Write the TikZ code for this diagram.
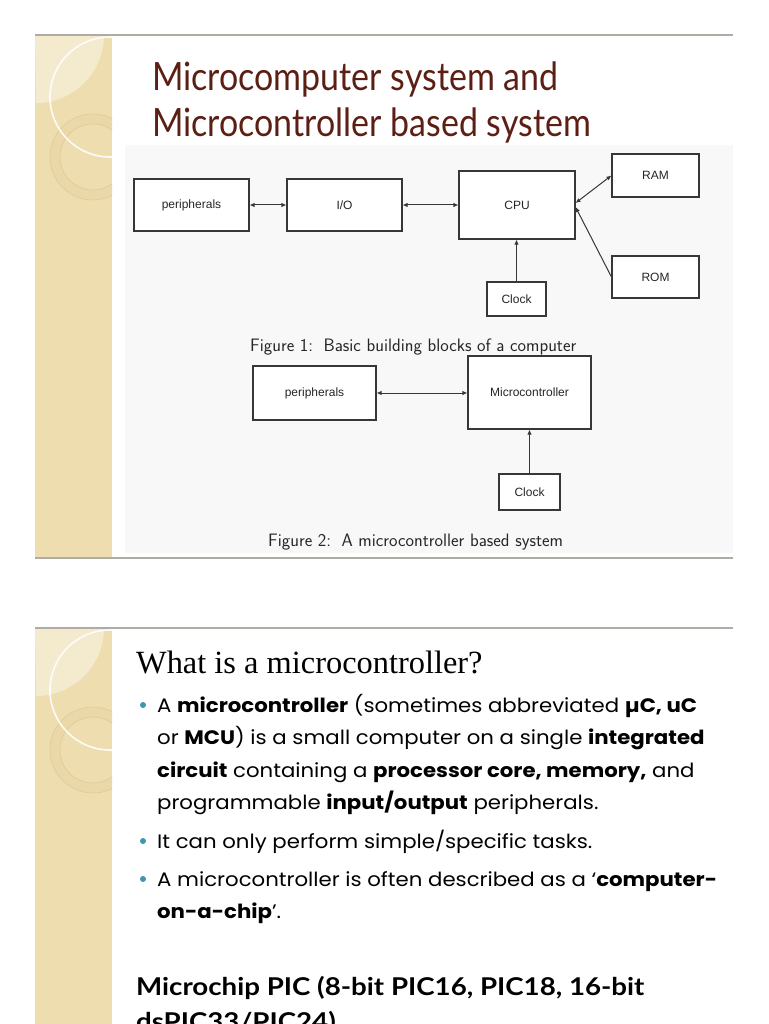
\documentclass[tikz,border=0pt]{standalone}
\usepackage{fontspec}
\setmainfont{Liberation Serif}
\newfontfamily\titlefont[FakeStretch=0.87]{Lato}
\newfontfamily\headfont[FakeStretch=1.13]{Lato}
\newfontfamily\bodyfont[FakeStretch=1.09]{Poppins}
\newfontfamily\diagfont{Liberation Sans}
\usetikzlibrary{arrows.meta}
\definecolor{panelbase}{RGB}{238,221,174}
\definecolor{panellight}{RGB}{244,234,206}
\definecolor{ringcol}{RGB}{235,216,168}
\definecolor{ringline}{RGB}{222,202,156}
\definecolor{titlebrown}{RGB}{92,31,20}
\definecolor{bullteal}{RGB}{60,150,180}
\definecolor{slideline}{RGB}{175,172,165}
\definecolor{figbg}{RGB}{248,248,248}
\definecolor{boxline}{RGB}{55,55,55}
\tikzset{
  blk/.style={draw=boxline, line width=1.1pt, fill=white, inner sep=0pt, text=black!85, font=\diagfont\fontsize{12}{14}\selectfont},
  arrboth/.style={draw=boxline, line width=1pt, {Latex[length=5pt,width=4.5pt]}-{Latex[length=5pt,width=4.5pt]}},
  arrone/.style={draw=boxline, line width=1pt, -{Latex[length=5pt,width=4.5pt]}},
  captxt/.style={anchor=base west, inner sep=0pt, text=black!85, font=\sffamily\fontsize{18}{20}\selectfont},
  bodyline/.style={anchor=base west, inner sep=0pt, font=\bodyfont\fontsize{19.5}{22}\selectfont},
  bdot/.style={fill=bullteal, draw=none},
}
\begin{document}
\begin{tikzpicture}[x=1pt,y=-1pt]
\useasboundingbox (0,0) rectangle (768,1024);
\fill[white] (0,0) rectangle (768,1024);
% ---- slide panels ----
\foreach \oy/\hh in {0/523, 593/431}{
  \begin{scope}[yshift=-\oy pt]
    \fill[panelbase] (35,35) rectangle (112,35+\hh);
    \begin{scope}
      \clip (35,35) rectangle (112,35+\hh);
      \fill[panellight] (35,35) -- (104,35) arc[start angle=0, end angle=-90, x radius=68, y radius=-68] -- cycle;
      \fill[ringcol, even odd rule] (93,157) circle[radius=43] (93,157) circle[radius=33];
      \draw[ringline, line width=0.6pt] (93,157) circle[radius=43];
      \draw[ringline, line width=0.6pt] (93,157) circle[radius=33];
      \draw[white, line width=1.6pt, opacity=0.9] (110,97) circle[radius=60];
    \end{scope}
  \end{scope}
}
% slide lines
\draw[slideline, line width=1.5pt] (35,35) -- (733,35);
\draw[slideline, line width=1.5pt] (35,558) -- (733,558);
\draw[slideline, line width=1.5pt] (35,628) -- (733,628);
% ---- slide 1 title ----
\node[anchor=base west, inner sep=0pt, text=titlebrown, font=\titlefont\fontsize{39}{44}\selectfont] (t1a) at (152,91) {Microcomputer system and};
\node[anchor=base west, inner sep=0pt, text=titlebrown, font=\titlefont\fontsize{39}{44}\selectfont] (t1b) at (152,137) {Microcontroller based system};
% figure background
\fill[figbg] (125,145) rectangle (733,553);
% ---- figure 1 ----
\node[blk, minimum width=115pt, minimum height=52pt] (per1) at (191.5,205) {peripherals};
\node[blk, minimum width=115pt, minimum height=52pt] (io) at (344.5,205) {I/O};
\node[blk, minimum width=116pt, minimum height=68pt] (cpu) at (517,205) {CPU};
\node[blk, minimum width=87pt, minimum height=43pt] (ram) at (655.5,175.5) {RAM};
\node[blk, minimum width=87pt, minimum height=42pt] (rom) at (655.5,277) {ROM};
\node[blk, minimum width=59pt, minimum height=34pt] (clk1) at (516.5,299) {Clock};
\draw[arrboth] (per1) -- (io);
\draw[arrboth] (io) -- (cpu);
\draw[arrboth] ([yshift=2pt]cpu.east) -- (ram.west);
\draw[arrone] (rom.west) -- ([yshift=-2pt]cpu.east);
\draw[arrone] (clk1.north) -- (clk1.north |- cpu.south);
\node[captxt] (cap1) at (250,351) {Figure 1:\, Basic building blocks of a computer};
% ---- figure 2 ----
\node[blk, minimum width=123pt, minimum height=54pt] (per2) at (314.5,393) {peripherals};
\node[blk, minimum width=123pt, minimum height=73pt] (mcu) at (529.5,392.5) {Microcontroller};
\node[blk, minimum width=61pt, minimum height=36pt] (clk2) at (529.5,492) {Clock};
\draw[arrboth] (per2.east) -- (per2.east -| mcu.west);
\draw[arrone] (clk2.north) -- (clk2.north |- mcu.south);
\node[captxt] (cap2) at (268,546) {Figure 2:\, A microcontroller based system};
% ---- slide 2 ----
\node[anchor=base west, inner sep=0pt, font=\fontsize{32.4}{36}\selectfont] (t2) at (136,673) {What is a microcontroller?};
\fill[bdot] (143,705) circle[radius=3];
\fill[bdot] (143,841) circle[radius=3];
\fill[bdot] (143,879) circle[radius=3];
\node[bodyline] (l1) at (157,712) {A \textbf{microcontroller} (sometimes abbreviated \textbf{µC, uC}};
\node[bodyline] (l2) at (157,744.5) {or \textbf{MCU}) is a small computer on a single \textbf{integrated}};
\node[bodyline] (l3) at (157,777) {\textbf{circuit} containing a \textbf{processor core, memory,} and};
\node[bodyline] (l4) at (157,809) {programmable \textbf{input/output} peripherals.};
\node[bodyline] (l5) at (157,848) {It can only perform simple/specific tasks.};
\node[bodyline] (l6) at (157,886) {A microcontroller is often described as a ‘\textbf{computer-}};
\node[bodyline] (l7) at (157,918) {\textbf{on-a-chip}’.};
\node[anchor=base west, inner sep=0pt, font=\headfont\bfseries\fontsize{24.5}{30}\selectfont] (h1) at (136,995) {Microchip PIC (8-bit PIC16, PIC18, 16-bit};
\node[anchor=base west, inner sep=0pt, font=\headfont\bfseries\fontsize{24.5}{30}\selectfont] (h2) at (136,1030) {dsPIC33/PIC24)};
\end{tikzpicture}
\end{document}
